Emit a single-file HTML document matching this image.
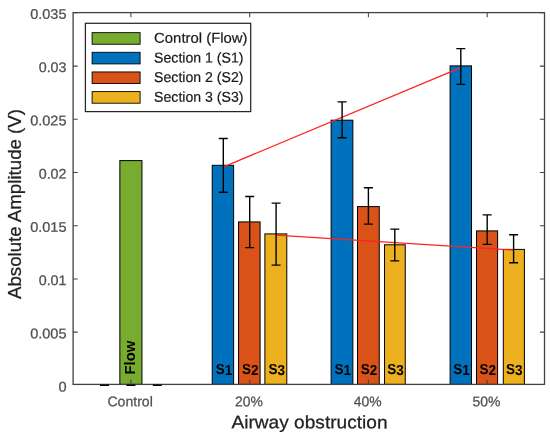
<!DOCTYPE html>
<html lang="en"><head><meta charset="utf-8"><title>Airway obstruction</title>
<style>html,body{margin:0;padding:0;background:#fff}svg{display:block}</style></head><body>
<svg width="550" height="441" viewBox="0 0 550 441">
<rect width="550" height="441" fill="#fff"/>
<rect x="119.85" y="160.6" width="22.1" height="223.8" fill="#77ac30" stroke="#000" stroke-width="1"/>
<rect x="212.21" y="165.3" width="21.40" height="219.1" fill="#0072bd" stroke="#000" stroke-width="1"/>
<rect x="238.55" y="221.9" width="21.55" height="162.5" fill="#d95319" stroke="#000" stroke-width="1"/>
<rect x="264.89" y="233.9" width="21.90" height="150.5" fill="#edb120" stroke="#000" stroke-width="1"/>
<rect x="331.11" y="120.2" width="21.75" height="264.2" fill="#0072bd" stroke="#000" stroke-width="1"/>
<rect x="357.50" y="206.6" width="21.75" height="177.8" fill="#d95319" stroke="#000" stroke-width="1"/>
<rect x="384.54" y="244.8" width="20.70" height="139.6" fill="#edb120" stroke="#000" stroke-width="1"/>
<rect x="450.11" y="65.9" width="21.40" height="318.5" fill="#0072bd" stroke="#000" stroke-width="1"/>
<rect x="476.50" y="230.9" width="21.10" height="153.5" fill="#d95319" stroke="#000" stroke-width="1"/>
<rect x="503.29" y="249.4" width="21.10" height="135.0" fill="#edb120" stroke="#000" stroke-width="1"/>
<rect x="73.1" y="12.6" width="471.4" height="371.8" fill="none" stroke="#424242" stroke-width="1.3"/>
<path d="M130.9 384.4v-4.6M130.9 12.6v4.6M249.7 384.4v-4.6M249.7 12.6v4.6M368.4 384.4v-4.6M368.4 12.6v4.6M487.2 384.4v-4.6M487.2 12.6v4.6M73.1 384.4h4.6M544.5 384.4h-4.6M73.1 332.1h4.6M544.5 332.1h-4.6M73.1 278.9h4.6M544.5 278.9h-4.6M73.1 225.7h4.6M544.5 225.7h-4.6M73.1 172.5h4.6M544.5 172.5h-4.6M73.1 119.3h4.6M544.5 119.3h-4.6M73.1 66.1h4.6M544.5 66.1h-4.6M73.1 12.6h4.6M544.5 12.6h-4.6" stroke="#424242" stroke-width="1.05" fill="none"/>
<path d="M223.6 166.8L460.7 67.7M276 235.2L513.2 250" stroke="#ff2222" stroke-width="1.3" fill="none"/>
<path d="M223.3 138.5V192.2M218.8 138.5h9.0M218.8 192.2h9.0M249.7 196.5V247.6M245.2 196.5h9.0M245.2 247.6h9.0M276.1 203.1V265.1M271.6 203.1h9.0M271.6 265.1h9.0M342.1 101.9V137.8M337.6 101.9h9.0M337.6 137.8h9.0M368.4 187.7V224.1M363.9 187.7h9.0M363.9 224.1h9.0M394.8 229.1V260.9M390.3 229.1h9.0M390.3 260.9h9.0M460.8 48.6V84.4M456.3 48.6h9.0M456.3 84.4h9.0M487.2 214.9V244.4M482.7 214.9h9.0M482.7 244.4h9.0M513.6 234.7V262.8M509.1 234.7h9.0M509.1 262.8h9.0M100.0 385.2h9.0M126.4 385.2h9.0M152.8 385.2h9.0" stroke="#000" stroke-width="1.4" fill="none"/>
<g font-family="'Liberation Sans', Arial, sans-serif" font-size="13.8" fill="#505050" stroke="#505050" stroke-width="0.25" text-anchor="end">
<text transform="translate(66.5 391.5) rotate(0.03)" textLength="8.1" lengthAdjust="spacingAndGlyphs">0</text>
<text transform="translate(66.5 338.3) rotate(0.03)" textLength="36.3" lengthAdjust="spacingAndGlyphs">0.005</text>
<text transform="translate(66.5 285.0) rotate(0.03)" textLength="27.8" lengthAdjust="spacingAndGlyphs">0.01</text>
<text transform="translate(66.5 231.8) rotate(0.03)" textLength="36.3" lengthAdjust="spacingAndGlyphs">0.015</text>
<text transform="translate(66.5 178.5) rotate(0.03)" textLength="27.8" lengthAdjust="spacingAndGlyphs">0.02</text>
<text transform="translate(66.5 125.3) rotate(0.03)" textLength="36.3" lengthAdjust="spacingAndGlyphs">0.025</text>
<text transform="translate(66.5 72.0) rotate(0.03)" textLength="27.8" lengthAdjust="spacingAndGlyphs">0.03</text>
<text transform="translate(66.5 18.8) rotate(0.03)" textLength="36.3" lengthAdjust="spacingAndGlyphs">0.035</text>
</g>
<g font-family="'Liberation Sans', Arial, sans-serif" font-size="14" fill="#505050" stroke="#505050" stroke-width="0.25" text-anchor="middle">
<text transform="translate(130.1 406.2) rotate(0.03)" textLength="45.4" lengthAdjust="spacingAndGlyphs">Control</text>
<text transform="translate(248.9 406.2) rotate(0.03)" textLength="27.9" lengthAdjust="spacingAndGlyphs">20%</text>
<text transform="translate(367.6 406.2) rotate(0.03)" textLength="27.9" lengthAdjust="spacingAndGlyphs">40%</text>
<text transform="translate(486.4 406.2) rotate(0.03)" textLength="27.9" lengthAdjust="spacingAndGlyphs">50%</text>
</g>
<text font-family="'Liberation Sans', Arial, sans-serif" font-size="18" fill="#222" stroke="#222" stroke-width="0.25" transform="translate(231.5 428.3) rotate(0.03)" textLength="156" lengthAdjust="spacingAndGlyphs">Airway obstruction</text>
<text font-family="'Liberation Sans', Arial, sans-serif" font-size="18" fill="#222" stroke="#222" stroke-width="0.25" transform="translate(21.4 299) rotate(-90)" textLength="190" lengthAdjust="spacingAndGlyphs">Absolute Amplitude (V)</text>
<g font-family="'Liberation Sans', Arial, sans-serif" font-size="14.5" font-weight="bold" fill="#000" text-anchor="middle">
<text transform="translate(223.9 374.5) rotate(0.03)" textLength="16.5" lengthAdjust="spacingAndGlyphs">S1</text>
<text transform="translate(250.3 374.5) rotate(0.03)" textLength="16.5" lengthAdjust="spacingAndGlyphs">S2</text>
<text transform="translate(276.7 374.5) rotate(0.03)" textLength="16.5" lengthAdjust="spacingAndGlyphs">S3</text>
<text transform="translate(342.7 374.5) rotate(0.03)" textLength="16.5" lengthAdjust="spacingAndGlyphs">S1</text>
<text transform="translate(369.1 374.5) rotate(0.03)" textLength="16.5" lengthAdjust="spacingAndGlyphs">S2</text>
<text transform="translate(395.4 374.5) rotate(0.03)" textLength="16.5" lengthAdjust="spacingAndGlyphs">S3</text>
<text transform="translate(461.4 374.5) rotate(0.03)" textLength="16.5" lengthAdjust="spacingAndGlyphs">S1</text>
<text transform="translate(487.8 374.5) rotate(0.03)" textLength="16.5" lengthAdjust="spacingAndGlyphs">S2</text>
<text transform="translate(514.2 374.5) rotate(0.03)" textLength="16.5" lengthAdjust="spacingAndGlyphs">S3</text>
<text transform="translate(135.2 374.4) rotate(-90)" text-anchor="start" textLength="33.6" lengthAdjust="spacingAndGlyphs">Flow</text>
</g>
<rect x="85.4" y="23.3" width="165.3" height="88.3" fill="#fff" stroke="#262626" stroke-width="1.25"/>
<g font-family="'Liberation Sans', Arial, sans-serif" font-size="14.3" fill="#1a1a1a" stroke="#1a1a1a" stroke-width="0.2">
<rect x="92.1" y="32.65" width="48" height="11.6" fill="#77ac30" stroke="#000" stroke-width="0.9"/>
<text transform="translate(154.1 42.75) rotate(0.03)" textLength="93.4" lengthAdjust="spacingAndGlyphs">Control (Flow)</text>
<rect x="92.1" y="52.30" width="48" height="11.6" fill="#0072bd" stroke="#000" stroke-width="0.9"/>
<text transform="translate(154.1 62.40) rotate(0.03)" textLength="89.4" lengthAdjust="spacingAndGlyphs">Section 1 (S1)</text>
<rect x="92.1" y="71.95" width="48" height="11.6" fill="#d95319" stroke="#000" stroke-width="0.9"/>
<text transform="translate(154.1 82.05) rotate(0.03)" textLength="89.4" lengthAdjust="spacingAndGlyphs">Section 2 (S2)</text>
<rect x="92.1" y="91.60" width="48" height="11.6" fill="#edb120" stroke="#000" stroke-width="0.9"/>
<text transform="translate(154.1 101.70) rotate(0.03)" textLength="89.4" lengthAdjust="spacingAndGlyphs">Section 3 (S3)</text>
</g>
</svg></body></html>
